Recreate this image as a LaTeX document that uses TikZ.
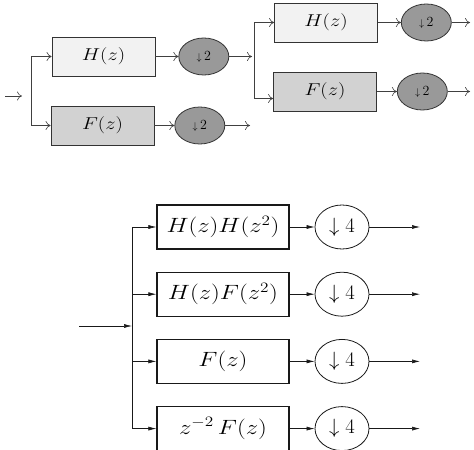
\documentclass[tikz,border=0pt]{standalone}
\usetikzlibrary{positioning, calc, arrows.meta, shapes.geometric}
\newcommand{\wtext}[1]{\scalebox{1.2}[1]{#1}}

\begin{document}
\begin{tikzpicture}[x=1bp, y=-1bp, node distance=22bp,
filt/.style={rectangle, draw=black!80, thick, minimum width=103bp, minimum height=39bp, inner sep=0pt, font=\fontsize{16}{18}\selectfont},
dsmp/.style={ellipse, draw=black!80, thick, fill=gray!80, minimum width=50bp, minimum height=37bp, inner sep=0pt, font=\fontsize{14}{16}\selectfont},
bank/.style={rectangle, draw=black!90, very thick, minimum width=132bp, minimum height=44bp, inner sep=0pt, font=\fontsize{21}{24}\selectfont},
decim/.style={ellipse, draw=black!90, thick, minimum width=54bp, minimum height=44bp, inner sep=0pt, font=\fontsize{21}{24}\selectfont},
sig/.style={-{To[length=5bp,width=9bp]}, draw=black!75, semithick},
fsig/.style={-{Latex[length=8bp,width=4bp]}, draw=black!90, semithick}]
\useasboundingbox (0,0) rectangle (474,450);

% first stage
\node (H1) [filt, fill=gray!10] at (103.5,56.5) {\wtext{$H(z)$}};
\node (F1) [filt, fill=gray!35] at (102.5,125.5) {\wtext{$F(z)$}};
\node (D1) [dsmp, right=23bp of H1] {{\fontsize{10}{12}\selectfont$\downarrow$}\,2};
\node (D2) [dsmp, right=20bp of F1] {{\fontsize{10}{12}\selectfont$\downarrow$}\,2};
\coordinate (in1) at (5,96);
\coordinate (in1e) at (22,96);
\coordinate (j1) at (31,96);
\draw[sig] (in1) -- (in1e);
\draw[sig] (j1) |- (H1.west);
\draw[sig] (j1) |- (F1.west);
\draw[sig] (H1.east) -- (D1.west);
\draw[sig] (F1.east) -- (D2.west);

% second stage
\node (H2) [filt, fill=gray!10] at (326,22.5) {\wtext{$H(z)$}};
\node (F2) [filt, fill=gray!35] at (325,91.5) {\wtext{$F(z)$}};
\node (D3) [dsmp, right=23bp of H2] {{\fontsize{10}{12}\selectfont$\downarrow$}\,2};
\node (D4) [dsmp, right=20bp of F2] {{\fontsize{10}{12}\selectfont$\downarrow$}\,2};
\coordinate (o1) at (252,56.5);
\coordinate (o2) at (250,0);
\coordinate (o3) at (470,0);
\coordinate (j2) at (254,56.5);
\draw[sig] (D1.east) -- (o1);
\draw[sig] (D2.east) -- (D2.east -| o2);
\draw[sig] (j2) |- (H2.west);
\draw[sig] (j2) |- ([yshift=-7bp]F2.west);
\draw[sig] (H2.east) -- (D3.west);
\draw[sig] (F2.east) -- (D4.west);
\draw[sig] (D3.east) -- (D3.east -| o3);
\draw[sig] (D4.east) -- (D4.east -| o3);

% equivalent bank
\node (B1) [bank] at (223,227) {\wtext{$H(z)H(z^2)$}};
\node (B2) [bank, below=of B1] {\wtext{$H(z)F(z^2)$}};
\node (B3) [bank, below=of B2] {\wtext{$F(z)$}};
\node (B4) [bank, below=of B3] {\wtext{$z^{-2}\,F(z)$}};
\coordinate (in3) at (79,326);
\coordinate (j3) at (132,326);
\coordinate (out) at (420,0);
\draw[fsig] (in3) -- (j3);
\foreach \i in {1,...,4} {
  \node (M\i) [decim, right=25bp of B\i] {$\downarrow 4$};
  \draw[fsig] (j3) |- (B\i.west);
  \draw[fsig] (B\i.east) -- (M\i.west);
  \draw[fsig] (M\i.east) -- (M\i.east -| out);
}
\end{tikzpicture}
\end{document}
